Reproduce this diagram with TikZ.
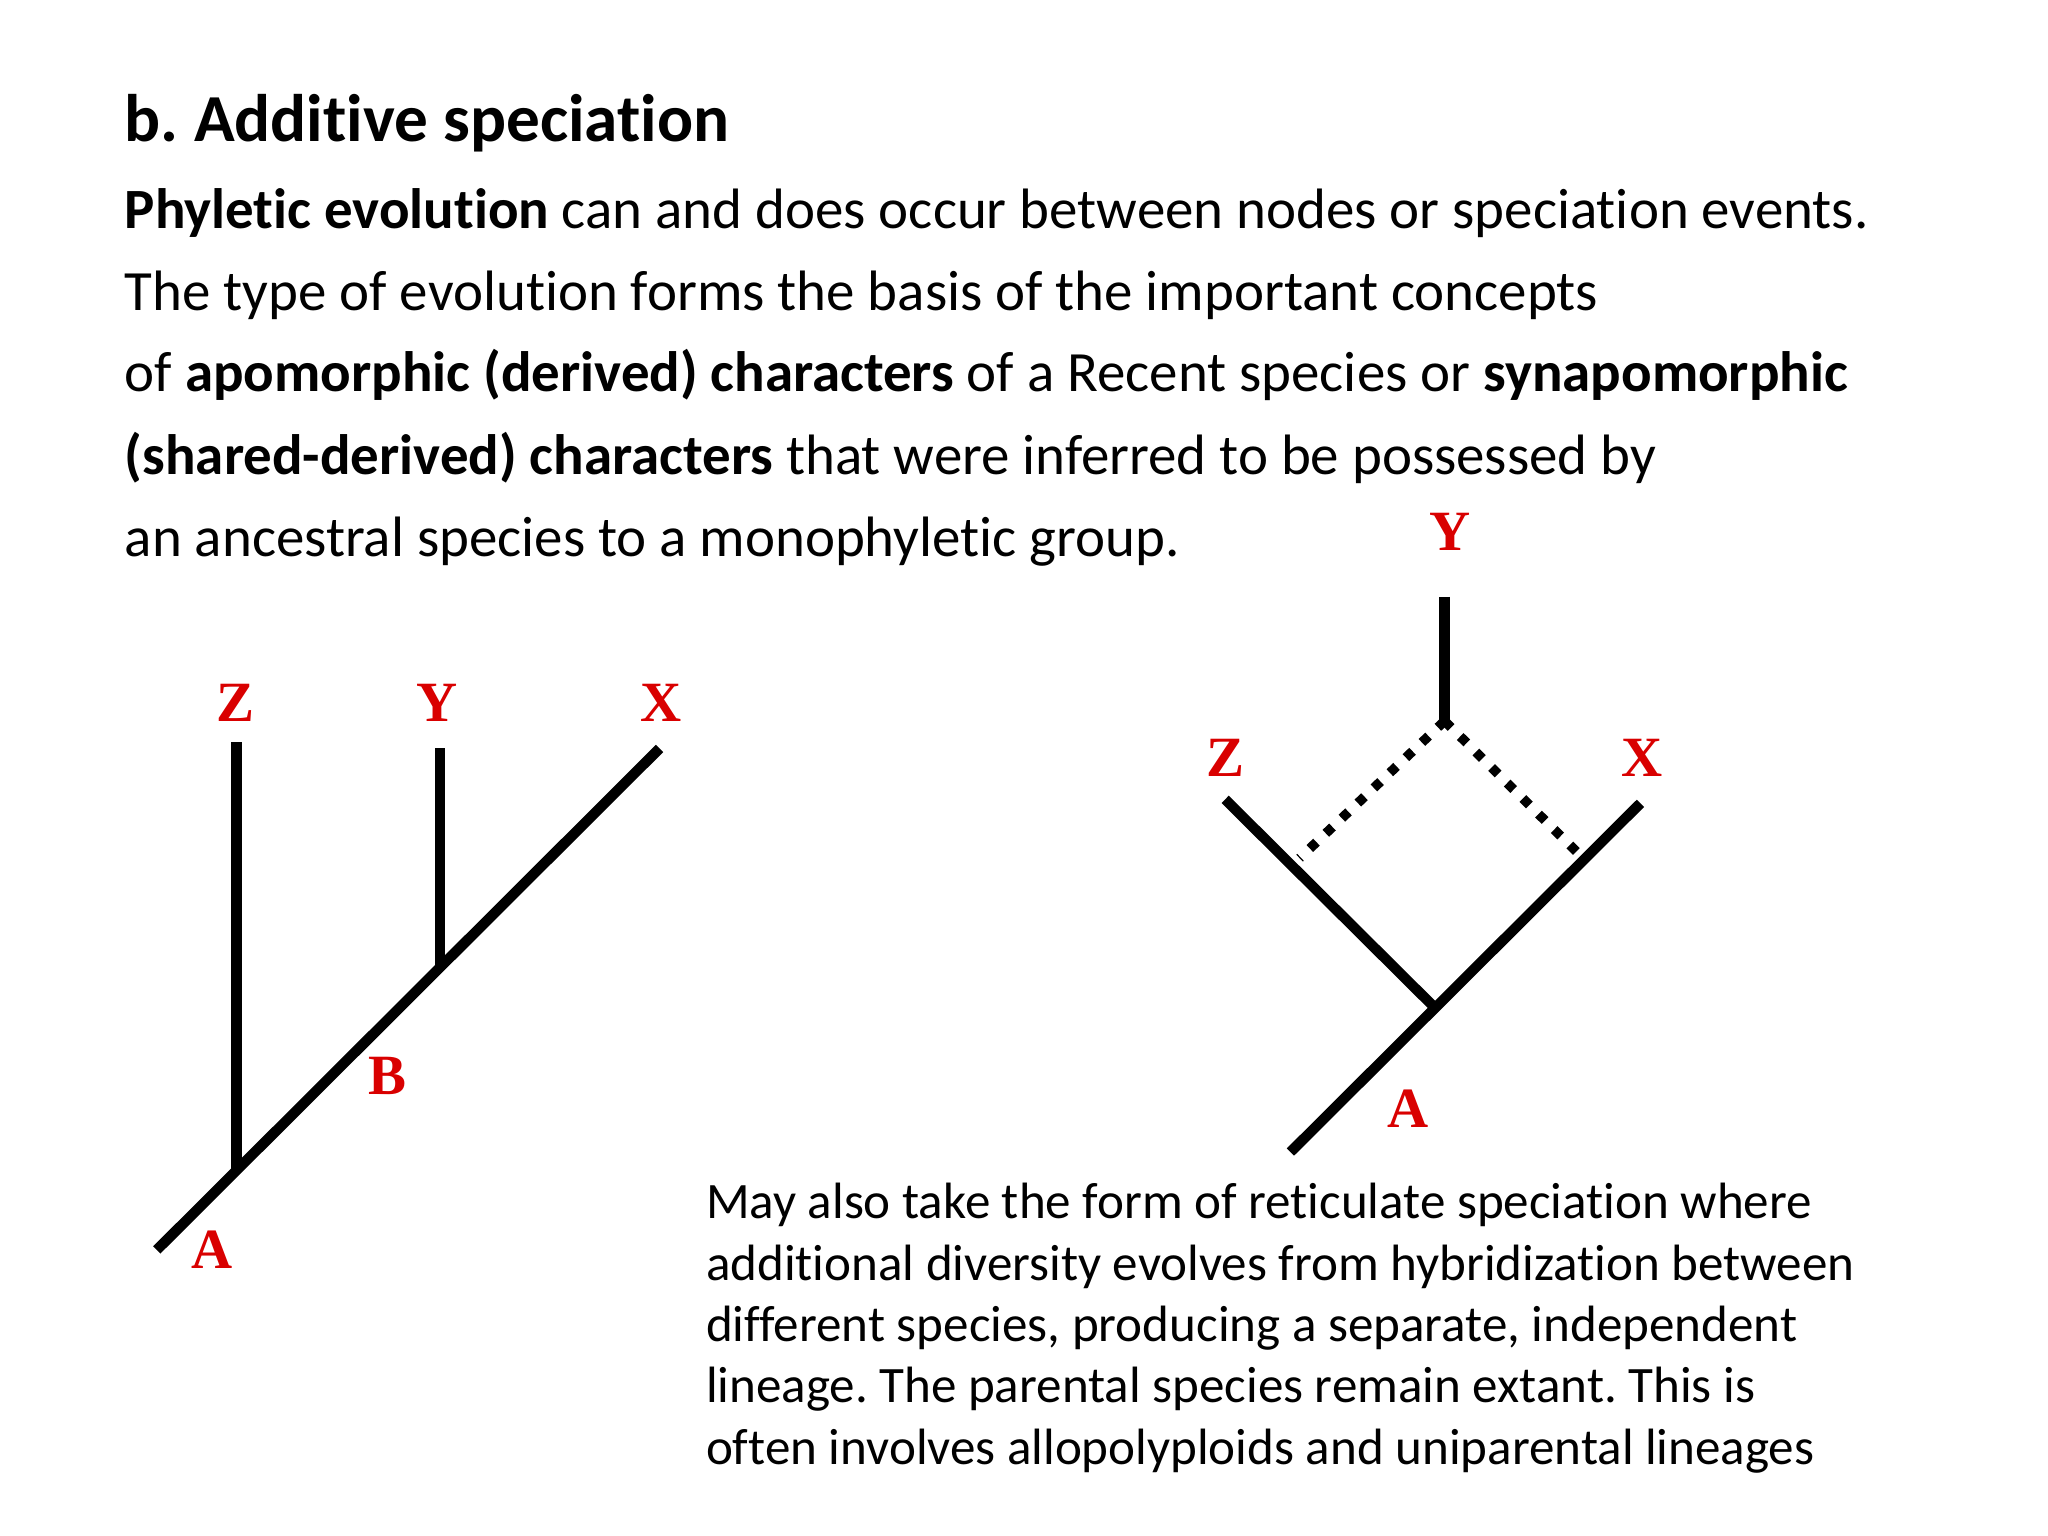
\documentclass[tikz,border=0pt]{standalone}
\usepackage{fontspec}
\setmainfont{Carlito}[Ligatures={NoCommon}]
\newfontfamily\lblfont{Liberation Serif}
\frenchspacing
\begin{document}
\begin{tikzpicture}[x=0.0125cm,y=-0.0125cm,
  br/.style={line width=2.8pt,line cap=butt},
  dt/.style={line width=2.6pt,dash pattern=on 2.5pt off 3.5pt},
  lbl/.style={text=red!85!black,font=\lblfont\bfseries\fontsize{15.5}{15.5}\selectfont,inner sep=0pt},
  body/.style={anchor=base west,inner sep=0pt,font=\fontsize{15.5}{15.5}\selectfont},
  small/.style={anchor=base west,inner sep=0pt,font=\fontsize{13.9}{13.9}\selectfont}]
\useasboundingbox (0,0) rectangle (1568,1176);
\node[anchor=base west,inner sep=0pt,font=\bfseries\fontsize{18.3}{18.3}\selectfont] (title) at (95,108) {b. Additive speciation};
\node[body] (l1) at (95,175) {\textbf{Phyletic evolution} can and does occur between nodes or speciation events.};
\node[body] (l2) at (95,238) {The type of evolution forms the basis of the important concepts};
\node[body] (l3) at (95,300) {of \textbf{apomorphic (derived) characters} of a Recent species or \textbf{synapomorphic}};
\node[body] (l4) at (95,363) {\textbf{(shared-derived) characters} that were inferred to be possessed by};
\node[body] (l5) at (95,426) {an ancestral species to a monophyletic group.};
\node[small] (p1) at (540,933) {May also take the form of reticulate speciation where};
\node[small] (p2) at (540,980) {additional diversity evolves from hybridization between};
\node[small] (p3) at (540,1027) {different species, producing a separate, independent};
\node[small] (p4) at (540,1074) {lineage. The parental species remain extant. This is};
\node[small] (p5) at (540,1121) {often involves allopolyploids and uniparental lineages};
% left tree
\coordinate (la) at (120,957);
\coordinate (lz0) at (181,896);
\coordinate (ly0) at (337,740);
\coordinate (lx) at (505,573);
\coordinate (lz) at (181,568);
\coordinate (ly) at (337,573);
\draw[br] (la) -- (lx);
\draw[br] (lz0) -- (lz);
\draw[br] (ly0) -- (ly);
\node[lbl] (tZ) at (180,538) {Z};
\node[lbl] (tY) at (335,538) {Y};
\node[lbl] (tX) at (506,538) {X};
\node[lbl] (tB) at (297,824) {B};
\node[lbl] (tA) at (162,957) {A};
% right tree
\coordinate (ra) at (988,882);
\coordinate (rj) at (1098,771);
\coordinate (rz) at (938,612);
\coordinate (rx) at (1256,615);
\coordinate (ry) at (1106,457);
\coordinate (ryb) at (1106,552);
\coordinate (dz) at (995,657);
\coordinate (dx) at (1212,657);
\draw[br] (ra) -- (rx);
\draw[br] (rj) -- (rz);
\draw[br] (ry) -- (ryb);
\draw[dt] (ryb) -- (dz);
\draw[dt] (ryb) -- (dx);
\node[lbl] (uY) at (1110,407) {Y};
\node[lbl] (uZ) at (938,580) {Z};
\node[lbl] (uX) at (1257,580) {X};
\node[lbl] (uA) at (1078,849) {A};
\end{tikzpicture}
\end{document}
